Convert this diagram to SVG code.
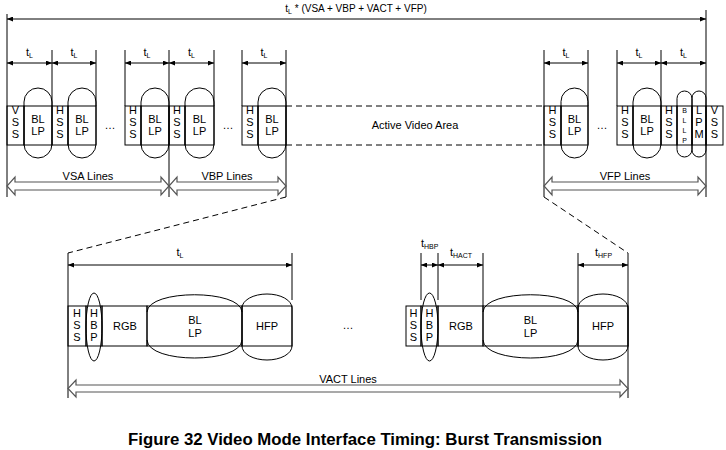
<svg xmlns="http://www.w3.org/2000/svg" width="726" height="450" viewBox="0 0 726 450">
<defs>
<marker id="ah" markerUnits="userSpaceOnUse" markerWidth="6" markerHeight="5" refX="6" refY="2.5" orient="auto-start-reverse">
<path d="M0,0 L6,2.5 L0,5 Z" fill="#000"/>
</marker>
<style>
text{font-family:"Liberation Sans",Arial,sans-serif;font-size:11px;fill:#000}
.c{text-anchor:middle}
.s{font-size:7px}
.box{fill:none;stroke:#000;stroke-width:1}
.ln{stroke:#000;stroke-width:1;fill:none}
.dim{stroke:#000;stroke-width:1;fill:none;marker-start:url(#ah);marker-end:url(#ah)}
.dash{stroke:#000;stroke-width:1;fill:none;stroke-dasharray:6 4}
.hol{fill:none;stroke:#555;stroke-width:1.2}
.cap{font-size:16.8px;font-weight:bold}
</style>
</defs>
<rect width="726" height="450" fill="#fff"/>

<g id="connectors">
<line class="ln" x1="7" y1="14" x2="7" y2="197"/>
<line class="ln" x1="706" y1="10" x2="706" y2="197"/>
<line class="dim" x1="7" y1="19" x2="706" y2="19"/>
<line class="ln" x1="52" y1="50" x2="52" y2="106"/>
<line class="ln" x1="96" y1="50" x2="96" y2="106"/>
<line class="ln" x1="125" y1="50" x2="125" y2="106"/>
<line class="ln" x1="169" y1="50" x2="169" y2="197"/>
<line class="ln" x1="214" y1="50" x2="214" y2="106"/>
<line class="ln" x1="242" y1="50" x2="242" y2="106"/>
<line class="ln" x1="286" y1="50" x2="286" y2="197"/>
<line class="ln" x1="544" y1="50" x2="544" y2="197"/>
<line class="ln" x1="588" y1="50" x2="588" y2="106"/>
<line class="ln" x1="617" y1="50" x2="617" y2="106"/>
<line class="ln" x1="661" y1="50" x2="661" y2="106"/>
<line class="dim" x1="7" y1="63" x2="52" y2="63"/>
<line class="dim" x1="52" y1="63" x2="96" y2="63"/>
<line class="dim" x1="125" y1="63" x2="169" y2="63"/>
<line class="dim" x1="169" y1="63" x2="214" y2="63"/>
<line class="dim" x1="242" y1="63" x2="286" y2="63"/>
<line class="dim" x1="544" y1="63" x2="588" y2="63"/>
<line class="dim" x1="617" y1="63" x2="661" y2="63"/>
<line class="dim" x1="661" y1="63" x2="706" y2="63"/>
<line class="dash" x1="286" y1="106" x2="544" y2="106"/>
<line class="dash" x1="286" y1="145" x2="544" y2="145"/>
<path class="hol" d="M15,182 L15,177 L7,186 L15,195 L15,190 L161,190 L161,195 L169,186 L161,177 L161,182 Z"/>
<path class="hol" d="M177,182 L177,177 L169,186 L177,195 L177,190 L278,190 L278,195 L286,186 L278,177 L278,182 Z"/>
<path class="hol" d="M552,182 L552,177 L544,186 L552,195 L552,190 L698,190 L698,195 L706,186 L698,177 L698,182 Z"/>
<line class="dash" x1="286" y1="197" x2="68" y2="253"/>
<line class="dash" x1="544" y1="197" x2="628" y2="253"/>
<line class="ln" x1="68" y1="253" x2="68" y2="398"/>
<line class="ln" x1="628" y1="253" x2="628" y2="398"/>
<line class="ln" x1="292" y1="253" x2="292" y2="300"/>
<line class="ln" x1="421" y1="253" x2="421" y2="300"/>
<line class="ln" x1="438" y1="253" x2="438" y2="300"/>
<line class="ln" x1="483" y1="253" x2="483" y2="306"/>
<line class="ln" x1="578" y1="253" x2="578" y2="306"/>
<line class="dim" x1="68" y1="265" x2="292" y2="265"/>
<line class="dim" x1="421" y1="265" x2="438" y2="265"/>
<line class="dim" x1="438" y1="265" x2="483" y2="265"/>
<line class="dim" x1="578" y1="265" x2="628" y2="265"/>
<path class="hol" d="M76,385 L76,380 L68,388.5 L76,397 L76,392 L620,392 L620,397 L628,388.5 L620,380 L620,385 Z"/>
</g>

<g id="labels">
<text class="c" x="356" y="12" style="font-size:10px">t<tspan class="s" dy="2">L</tspan><tspan dy="-2"> * (VSA + VBP + VACT + VFP)</tspan></text>
<text class="c" x="29.5" y="56">t<tspan class="s" dy="2">L</tspan></text>
<text class="c" x="74" y="56">t<tspan class="s" dy="2">L</tspan></text>
<text class="c" x="147" y="56">t<tspan class="s" dy="2">L</tspan></text>
<text class="c" x="191.5" y="56">t<tspan class="s" dy="2">L</tspan></text>
<text class="c" x="264" y="56">t<tspan class="s" dy="2">L</tspan></text>
<text class="c" x="566" y="56">t<tspan class="s" dy="2">L</tspan></text>
<text class="c" x="639" y="56">t<tspan class="s" dy="2">L</tspan></text>
<text class="c" x="683.5" y="56">t<tspan class="s" dy="2">L</tspan></text>
<text class="c" x="88" y="180">VSA Lines</text>
<text class="c" x="227" y="180">VBP Lines</text>
<text class="c" x="625" y="180">VFP Lines</text>
<text class="c" x="415" y="129">Active Video Area</text>
<text class="c" x="110" y="129">…</text>
<text class="c" x="228" y="129">…</text>
<text class="c" x="602" y="129">…</text>
<text class="c" x="180" y="256">t<tspan class="s" dy="2">L</tspan></text>
<text x="421" y="247">t<tspan class="s" dy="2">HBP</tspan></text>
<text x="450" y="256">t<tspan class="s" dy="2">HACT</tspan></text>
<text x="595" y="256">t<tspan class="s" dy="2">HFP</tspan></text>
<text class="c" x="348" y="329">…</text>
<text class="c" x="348" y="383">VACT Lines</text>
<text class="c cap" x="365" y="445">Figure 32 Video Mode Interface Timing: Burst Transmission</text>
</g>

<g id="row-top-left">
<rect class="box" x="7" y="106" width="17" height="39"/>
<text class="c" x="15.5" y="114">V</text><text class="c" x="15.5" y="126">S</text><text class="c" x="15.5" y="138">S</text>
<rect class="box" x="24" y="106" width="28" height="39"/>
<rect class="box" x="24" y="88" width="28" height="70" rx="14"/>
<text class="c" x="38" y="123">BL</text><text class="c" x="38" y="135">LP</text>
<rect class="box" x="52" y="106" width="16" height="39"/>
<text class="c" x="60" y="114">H</text><text class="c" x="60" y="126">S</text><text class="c" x="60" y="138">S</text>
<rect class="box" x="68" y="106" width="28" height="39"/>
<rect class="box" x="68" y="88" width="28" height="70" rx="14"/>
<text class="c" x="82" y="123">BL</text><text class="c" x="82" y="135">LP</text>
</g>

<g id="row-top-vsa-end">
<rect class="box" x="125" y="106" width="16" height="39"/>
<text class="c" x="133" y="114">H</text><text class="c" x="133" y="126">S</text><text class="c" x="133" y="138">S</text>
<rect class="box" x="141" y="106" width="28" height="39"/>
<rect class="box" x="141" y="88" width="28" height="70" rx="14"/>
<text class="c" x="155" y="123">BL</text><text class="c" x="155" y="135">LP</text>
<rect class="box" x="169" y="106" width="16" height="39"/>
<text class="c" x="177" y="114">H</text><text class="c" x="177" y="126">S</text><text class="c" x="177" y="138">S</text>
<rect class="box" x="185" y="106" width="29" height="39"/>
<rect class="box" x="185" y="88" width="29" height="70" rx="14"/>
<text class="c" x="199.5" y="123">BL</text><text class="c" x="199.5" y="135">LP</text>
</g>

<g id="row-top-vbp-end">
<rect class="box" x="242" y="106" width="16" height="39"/>
<text class="c" x="250" y="114">H</text><text class="c" x="250" y="126">S</text><text class="c" x="250" y="138">S</text>
<rect class="box" x="258" y="106" width="28" height="39"/>
<rect class="box" x="258" y="88" width="28" height="70" rx="14"/>
<text class="c" x="272" y="123">BL</text><text class="c" x="272" y="135">LP</text>
</g>

<g id="row-top-vfp">
<rect class="box" x="544" y="106" width="17" height="39"/>
<text class="c" x="552.5" y="114">H</text><text class="c" x="552.5" y="126">S</text><text class="c" x="552.5" y="138">S</text>
<rect class="box" x="561" y="106" width="27" height="39"/>
<rect class="box" x="561" y="88" width="27" height="70" rx="13.5"/>
<text class="c" x="574.5" y="123">BL</text><text class="c" x="574.5" y="135">LP</text>
<rect class="box" x="617" y="106" width="16" height="39"/>
<text class="c" x="625" y="114">H</text><text class="c" x="625" y="126">S</text><text class="c" x="625" y="138">S</text>
<rect class="box" x="633" y="106" width="28" height="39"/>
<rect class="box" x="633" y="88" width="28" height="70" rx="14"/>
<text class="c" x="647" y="123">BL</text><text class="c" x="647" y="135">LP</text>
<rect class="box" x="661" y="106" width="16" height="39"/>
<text class="c" x="669" y="114">H</text><text class="c" x="669" y="126">S</text><text class="c" x="669" y="138">S</text>
<rect class="box" x="677" y="106" width="15" height="39"/>
<rect class="box" x="677" y="91" width="15" height="66" rx="7.5"/>
<text class="c" x="684.5" y="113" style="font-size:7px">B</text><text class="c" x="684.5" y="123" style="font-size:7px">L</text><text class="c" x="684.5" y="133" style="font-size:7px">L</text><text class="c" x="684.5" y="143" style="font-size:7px">P</text>
<rect class="box" x="692" y="106" width="14" height="39"/>
<rect class="box" x="692" y="91" width="14" height="66" rx="7"/>
<text class="c" x="699" y="114">L</text><text class="c" x="699" y="126">P</text><text class="c" x="699" y="138">M</text>
<rect class="box" x="706" y="106" width="17" height="39"/>
<text class="c" x="714.5" y="114">V</text><text class="c" x="714.5" y="126">S</text><text class="c" x="714.5" y="138">S</text>
</g>

<g id="line-detail-left">
<rect class="box" x="68" y="306" width="18" height="40"/>
<text class="c" x="77" y="317">H</text><text class="c" x="77" y="329">S</text><text class="c" x="77" y="341">S</text>
<rect class="box" x="86" y="306" width="16" height="40"/>
<ellipse class="box" cx="94" cy="327" rx="8" ry="34"/>
<text class="c" x="94" y="317">H</text><text class="c" x="94" y="329">B</text><text class="c" x="94" y="341">P</text>
<rect class="box" x="102" y="306" width="45" height="40"/>
<text class="c" x="125" y="330">RGB</text>
<rect class="box" x="147" y="306" width="95" height="40"/>
<path class="box" d="M147,312 C148,289 241,289 242,312 M147,340 C148,364 241,364 242,340"/>
<text class="c" x="195" y="324">BL</text><text class="c" x="195" y="337">LP</text>
<rect class="box" x="242" y="306" width="50" height="40"/>
<rect class="box" x="242" y="294" width="50" height="66" rx="25" ry="14"/>
<text class="c" x="267" y="330">HFP</text>
</g>

<g id="line-detail-right">
<rect class="box" x="406" y="306" width="15" height="40"/>
<text class="c" x="413.5" y="317">H</text><text class="c" x="413.5" y="329">S</text><text class="c" x="413.5" y="341">S</text>
<rect class="box" x="421" y="306" width="17" height="40"/>
<ellipse class="box" cx="429.5" cy="327" rx="8.5" ry="34"/>
<text class="c" x="429.5" y="317">H</text><text class="c" x="429.5" y="329">B</text><text class="c" x="429.5" y="341">P</text>
<rect class="box" x="438" y="306" width="45" height="40"/>
<text class="c" x="461" y="330">RGB</text>
<rect class="box" x="483" y="306" width="95" height="40"/>
<path class="box" d="M483,312 C484,289 577,289 578,312 M483,340 C484,364 577,364 578,340"/>
<text class="c" x="530.5" y="324">BL</text><text class="c" x="530.5" y="337">LP</text>
<rect class="box" x="578" y="306" width="50" height="40"/>
<rect class="box" x="578" y="294" width="50" height="66" rx="25" ry="14"/>
<text class="c" x="603" y="330">HFP</text>
</g>
</svg>
